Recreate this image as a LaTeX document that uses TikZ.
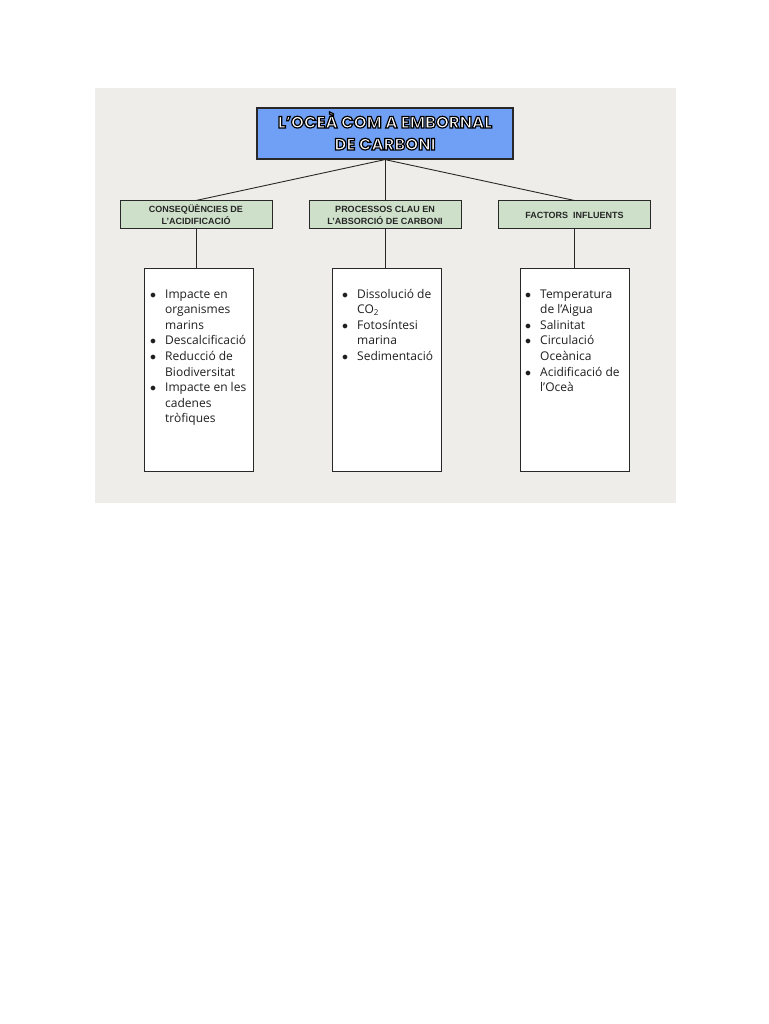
\documentclass[tikz,border=0pt]{standalone}
\usepackage{fontspec}
\setmainfont{Open Sans}
\newfontfamily\titlefont{Poppins}
\newfontfamily\headfont{Liberation Sans}
\usepackage{tikz}
\usetikzlibrary{positioning}
\definecolor{panelgrey}{RGB}{238,237,234}
\definecolor{titleblue}{RGB}{111,160,245}
\definecolor{headgreen}{RGB}{206,224,201}
\definecolor{edgegrey}{RGB}{40,40,40}
% contorn negre del titol
\newcommand{\outlined}[1]{\special{pdf:code 0 0 0 RG 2 Tr 1.2 w}#1\special{pdf:code 0 Tr}}
\newcommand{\itemlist}[1]{\fontsize{12}{15.6}\selectfont\begin{tabular}[t]{@{}l@{\hspace{9pt}}l@{}}#1\end{tabular}}
\newcommand{\bul}{$\bullet$}

\begin{document}
\begin{tikzpicture}[x=1pt,y=-1pt,
  headbox/.style={draw=edgegrey,line width=1pt,fill=headgreen,minimum width=152pt,minimum height=28pt,align=center,
    font=\headfont\bfseries\fontsize{9}{12}\selectfont,text=black!85},
  listbox/.style={draw=edgegrey,line width=1pt,fill=white,minimum width=109pt,minimum height=203pt},
  link/.style={draw=edgegrey,line width=0.9pt}]
\useasboundingbox (0,0) rectangle (768,1024);
\fill [panelgrey] (95,88) rectangle (676,503);
% titol
\node [draw=edgegrey,line width=1.2pt,fill=titleblue,minimum width=256pt,minimum height=51pt] (title) at (385,133.5) {};
\node [align=center,text=white,font=\titlefont\bfseries\fontsize{16.5}{22}\selectfont] (titletext) at (385,131)
  {\outlined{L’OCEÀ COM A EMBORNAL}\\\outlined{DE CARBONI}};
% capcaleres
\node [headbox] (conseq) at (196,215) {CONSEQÜÈNCIES DE\\L’ACIDIFICACIÓ};
\node [headbox] (process) at (385,215) {PROCESSOS CLAU EN\\L’ABSORCIÓ DE CARBONI};
\node [headbox] (factors) at (574.5,215) {FACTORS\ \ INFLUENTS};
% caixes de llista
\node [listbox] (conseqList) at (198.5,369.5) {};
\node [listbox] (processList) at (386.5,369.5) {};
\node [listbox] (factorsList) at (575,369.5) {};
% connectors
\draw [link] (title.south) -- (conseq.north);
\draw [link] (title.south) -- (process.north);
\draw [link] (title.south) -- (factors.north);
\draw [link] (conseq.south) -- (conseq.south |- conseqList.north);
\draw [link] (process.south) -- (process.south |- processList.north);
\draw [link] (factors.south) -- (factors.south |- factorsList.north);
% textos
\node [anchor=base west,inner sep=0,text=black!88] (conseqItems) at (150,298) {\itemlist{%
  \bul & Impacte en\\ & organismes\\ & marins\\
  \bul & Descalcificació\\
  \bul & Reducció de\\ & Biodiversitat\\
  \bul & Impacte en les\\ & cadenes\\ & tròfiques}};
\node [anchor=base west,inner sep=0,text=black!88] (processItems) at (342,298) {\itemlist{%
  \bul & Dissolució de\\ & CO\textsubscript{2}\\
  \bul & Fotosíntesi\\ & marina\\
  \bul & Sedimentació}};
\node [anchor=base west,inner sep=0,text=black!88] (factorsItems) at (525,298) {\itemlist{%
  \bul & Temperatura\\ & de l’Aigua\\
  \bul & Salinitat\\
  \bul & Circulació\\ & Oceànica\\
  \bul & Acidificació de\\ & l’Oceà}};
\end{tikzpicture}
\end{document}
